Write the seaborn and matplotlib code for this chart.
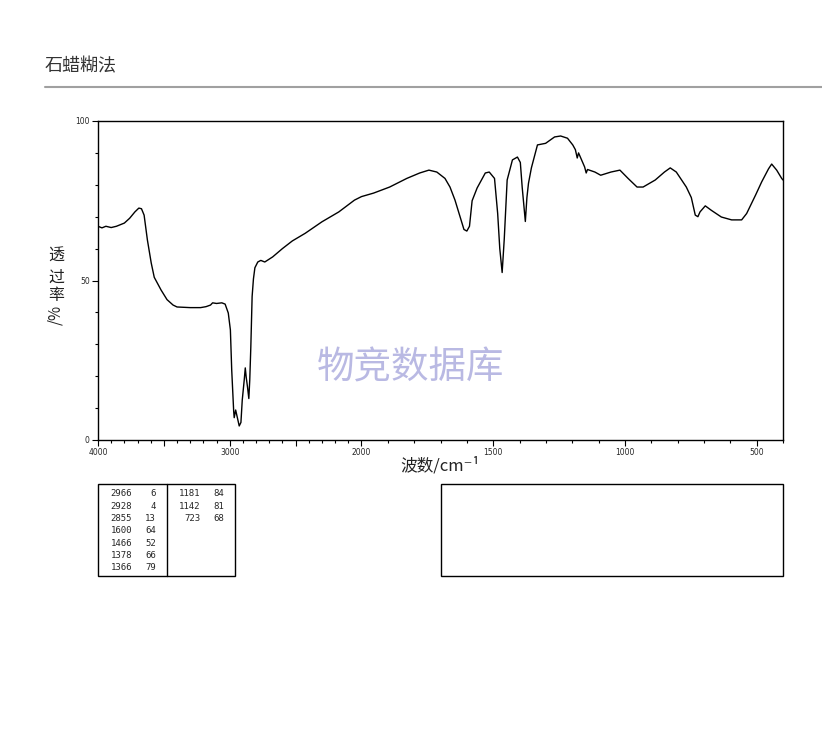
import numpy as np
import pandas as pd
import matplotlib
matplotlib.use("Agg")
import matplotlib.pyplot as plt
from matplotlib.lines import Line2D
from matplotlib.patches import Rectangle
from matplotlib.ticker import FixedLocator
import seaborn as sns

# IR spectrum (wavenumber cm-1, transmittance %)
wavenumber = [4000, 3970, 3940, 3900, 3860, 3800, 3760, 3720, 3690, 3670,
              3650, 3625, 3596, 3573, 3521, 3476, 3430, 3400, 3300, 3221,
              3180, 3146, 3130, 3100, 3060, 3035, 3011, 2995, 2985, 2975,
              2970, 2966, 2955, 2945, 2928, 2915, 2905, 2890, 2882, 2875,
              2865, 2855, 2848, 2840, 2830, 2820, 2809, 2787, 2764, 2734,
              2674, 2600, 2525, 2427, 2300, 2172, 2053, 2000, 1954, 1893,
              1828, 1779, 1744, 1714, 1683, 1664, 1645, 1626, 1611, 1600,
              1590, 1580, 1561, 1530, 1515, 1495, 1483, 1475, 1466, 1458,
              1447, 1427, 1408, 1397, 1390, 1378, 1372, 1366, 1355, 1332,
              1301, 1267, 1244, 1218, 1198, 1188, 1181, 1176, 1153, 1147,
              1142, 1114, 1092, 1053, 1019, 988, 954, 931, 885, 850,
              828, 805, 767, 748, 733, 723, 715, 695, 672, 634,
              595, 557, 538, 504, 481, 455, 443, 424, 405, 400]
transmittance = [67.0, 66.5, 67.0, 66.6, 67.0, 68.0, 69.5, 71.5, 72.7, 72.5,
                 70.5, 62.7, 55.5, 51.0, 47.0, 44.0, 42.3, 41.7, 41.5, 41.5,
                 41.8, 42.3, 43.0, 42.8, 43.0, 42.6, 39.8, 34.5, 22.0, 13.5,
                 9.0, 7.0, 9.4, 7.5, 4.4, 5.5, 12.5, 18.8, 22.6, 19.7,
                 16.6, 13.0, 18.8, 29.0, 45.0, 50.5, 54.0, 55.8, 56.3, 55.8,
                 57.4, 60.0, 62.4, 64.8, 68.4, 71.5, 75.2, 76.3, 77.4, 79.3,
                 82.0, 83.7, 84.6, 84.0, 82.0, 79.3, 75.2, 70.0, 66.0, 65.5,
                 67.0, 75.0, 79.0, 83.7, 84.0, 82.0, 71.0, 60.0, 52.5, 63.0,
                 81.5, 87.8, 88.7, 87.0, 79.3, 68.5, 76.0, 80.5, 85.3, 92.5,
                 93.0, 95.0, 95.3, 94.6, 92.5, 91.0, 88.4, 90.0, 85.6, 83.7,
                 84.8, 84.0, 83.0, 84.0, 84.6, 82.0, 79.3, 79.3, 81.5, 84.0,
                 85.3, 84.0, 79.3, 76.0, 70.5, 70.0, 71.5, 73.4, 72.0, 69.9,
                 69.0, 69.0, 71.0, 76.8, 80.9, 85.0, 86.5, 84.6, 82.0, 81.5]

# peak table
peak_wn_left = ["2966", "2928", "2855", "1600", "1466", "1378", "1366"]
peak_t_left = ["6", "4", "13", "64", "52", "66", "79"]
peak_wn_right = ["1181", "1142", "723"]
peak_t_right = ["84", "81", "68"]

x_major = [4000, 3500, 3000, 2500, 2000, 1500, 1000, 500]
x_labels = ["4000", "", "3000", "", "2000", "1500", "1000", "500"]
y_major = [0, 50, 100]


# axis is compressed 2:1 above 2000 cm-1
def fwd(w):
    w = np.asarray(w, dtype=float)
    return np.where(w >= 2000, 1000 + w / 2.0, w)


def inv(p):
    p = np.asarray(p, dtype=float)
    return np.where(p >= 2000, 2.0 * (p - 1000), p)


sns.set_style("ticks")
plt.rcParams["font.family"] = ["Noto Sans CJK SC", "DejaVu Sans"]

W, H = 822, 737
fig = plt.figure(figsize=(W / 100, H / 100), dpi=100)


def fx(px):
    return px / W


def fy(py):
    return 1 - py / H


ax = fig.add_axes([fx(98), fy(440), fx(783) - fx(98), fy(121) - fy(440)])
df = pd.DataFrame({"wn": wavenumber, "T": transmittance})
sns.lineplot(data=df, x="wn", y="T", sort=False, estimator=None,
             color="black", linewidth=1.0, ax=ax)

ax.set_xscale("function", functions=(fwd, inv))
ax.set_xlim(4000, 400)
ax.set_ylim(0, 100)
ax.xaxis.set_major_locator(FixedLocator(x_major))
ax.set_xticklabels(x_labels)
ax.xaxis.set_minor_locator(FixedLocator(list(range(4000, 399, -100))))
ax.yaxis.set_major_locator(FixedLocator(y_major))
ax.set_yticklabels([str(v) for v in y_major])
ax.yaxis.set_minor_locator(FixedLocator(list(range(0, 101, 10))))
ax.tick_params(which="major", direction="out", length=4, width=0.8,
               labelsize=5.5, pad=2, color="black")
ax.tick_params(which="minor", direction="out", length=2.5, width=0.8,
               color="black")
for lab in ax.get_xticklabels() + ax.get_yticklabels():
    lab.set_family("DejaVu Sans")
for sp in ax.spines.values():
    sp.set_visible(True)
    sp.set_linewidth(1.0)
    sp.set_color("black")
ax.set_xlabel("")
ax.set_ylabel("")

# axis titles
fig.text(fx(440), fy(466), "波数/cm⁻¹", ha="center", va="center",
         fontsize=12, color="#222222")
for ch, py in zip(["透", "过", "率"], [256, 277, 295]):
    fig.text(fx(56), fy(py), ch, ha="center", va="center", fontsize=11.5,
             color="#222222")
fig.text(fx(56), fy(315), "/%", ha="center", va="center", fontsize=11,
         rotation=90, color="#222222")

# watermark
fig.text(fx(411), fy(368), "物竞数据库", ha="center", va="center",
         fontsize=27, color="#b9b9e3")

# title and rule
fig.text(fx(45), fy(66), "石蜡糊法", ha="left", va="center", fontsize=13,
         color="#333333")
fig.add_artist(Line2D([fx(45), 1.0], [fy(87), fy(87)], color="#a0a0a0",
                      linewidth=1.5, transform=fig.transFigure))

# peak table boxes
for x0, x1 in [(98, 235), (441, 783)]:
    fig.add_artist(Rectangle((fx(x0), fy(576)), fx(x1) - fx(x0),
                             fy(484) - fy(576), fill=False, edgecolor="black",
                             linewidth=1.0, transform=fig.transFigure))
fig.add_artist(Line2D([fx(167), fx(167)], [fy(484), fy(576)], color="black",
                      linewidth=1.0, transform=fig.transFigure))

row_y = [494 + 12.3 * i for i in range(7)]
for wn, t, py in zip(peak_wn_left, peak_t_left, row_y):
    fig.text(fx(132), fy(py), wn, ha="right", va="center", fontsize=6.5,
             family="DejaVu Sans Mono")
    fig.text(fx(156), fy(py), t, ha="right", va="center", fontsize=6.5,
             family="DejaVu Sans Mono")
for wn, t, py in zip(peak_wn_right, peak_t_right, row_y):
    fig.text(fx(200), fy(py), wn, ha="right", va="center", fontsize=6.5,
             family="DejaVu Sans Mono")
    fig.text(fx(224), fy(py), t, ha="right", va="center", fontsize=6.5,
             family="DejaVu Sans Mono")

fig.savefig("out.png", dpi=100)
